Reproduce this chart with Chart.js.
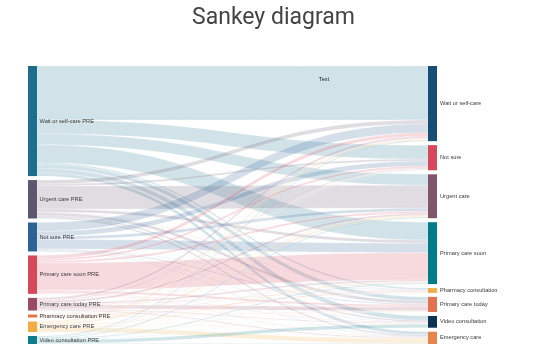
<!DOCTYPE html>
<html>
<head>
<meta charset="utf-8">
<script src="https://cdn.jsdelivr.net/npm/chart.js@4.4.1/dist/chart.umd.min.js"></script>
<style>
  html, body { margin: 0; padding: 0; background: #fff; }
  #wrap { width: 547px; height: 360px; }
</style>
</head>
<body>
<div id="wrap"><canvas id="sankeyChart"></canvas></div>
<script>
// nodes
const sourceLabels = [
  "Wait or self-care PRE", "Urgent care PRE", "Not sure PRE", "Primary care soon PRE",
  "Primary care today PRE", "Pharmacy consultation PRE", "Emergency care PRE", "Video consultation PRE"
];
const targetLabels = [
  "Wait or self-care", "Not sure", "Urgent care", "Primary care soon",
  "Pharmacy consultation", "Primary care today", "Video consultation", "Emergency care"
];
const sourceColors = ["#1a6e8e", "#5f5770", "#2e6196", "#d9475c", "#9b4a63", "#e8734a", "#f2ad45", "#0d7d8a"];
const targetColors = ["#154f75", "#d6485c", "#80566b", "#007b8a", "#f0ad45", "#e1714f", "#0d3354", "#e8844a"];

// flows out of each PRE node, in targetLabels order
const fromWait         = [540, 140, 110, 180, 15, 40, 45, 33];
const fromUrgent       = [40, 20, 230, 30, 5, 30, 15, 15];
const fromNotSure      = [90, 50, 30, 95, 5, 10, 5, 5];
const fromPrimarySoon  = [35, 20, 20, 275, 5, 20, 5, 5];
const fromPrimaryToday = [20, 10, 20, 15, 5, 40, 7, 10];
const fromPharmacy     = [3, 2, 5, 5, 8, 3, 2, 2];
const fromEmergency    = [15, 5, 15, 10, 3, 5, 4, 48];
const fromVideo        = [10, 5, 10, 10, 2, 3, 35, 5];

const flows = [fromWait, fromUrgent, fromNotSure, fromPrimarySoon, fromPrimaryToday, fromPharmacy, fromEmergency, fromVideo];

const sourceTotals = flows.map(r => r.reduce((s, v) => s + v, 0));
const targetTotals = targetLabels.map((_, j) => flows.reduce((s, r) => s + r[j], 0));
const grandTotal = sourceTotals.reduce((s, v) => s + v, 0);
const nodeGap = grandTotal * 0.016;
const yMax = grandTotal + nodeGap * (sourceLabels.length - 1);

function stackNodes(totals) {
  let y = 0;
  return totals.map(t => {
    const n = { y0: y, y1: y + t };
    y += t + nodeGap;
    return n;
  });
}
const sourceNodes = stackNodes(sourceTotals);
const targetNodes = stackNodes(targetTotals);

function hexToRgba(hex, a) {
  const n = parseInt(hex.slice(1), 16);
  return "rgba(" + (n >> 16) + "," + ((n >> 8) & 255) + "," + (n & 255) + "," + a + ")";
}

const nodeWidth = 9;

const sankeyPlugin = {
  id: "sankey",
  afterDatasetsDraw(chart) {
    const ctx = chart.ctx;
    const xs = chart.scales.x;
    const ys = chart.scales.y;
    const leftX = xs.getPixelForValue(0);
    const rightX = xs.getPixelForValue(1);
    const x0 = leftX + nodeWidth;
    const x1 = rightX - nodeWidth;
    const xm = (x0 + x1) / 2;

    // links
    const tgtOffset = targetNodes.map(n => n.y0);
    ctx.save();
    flows.forEach((row, i) => {
      let sOff = sourceNodes[i].y0;
      row.forEach((v, j) => {
        if (!v) return;
        const sy0 = ys.getPixelForValue(sOff);
        const sy1 = ys.getPixelForValue(sOff + v);
        const ty0 = ys.getPixelForValue(tgtOffset[j]);
        const ty1 = ys.getPixelForValue(tgtOffset[j] + v);
        sOff += v;
        tgtOffset[j] += v;
        ctx.beginPath();
        ctx.moveTo(x0, sy0);
        ctx.bezierCurveTo(xm, sy0, xm, ty0, x1, ty0);
        ctx.lineTo(x1, ty1);
        ctx.bezierCurveTo(xm, ty1, xm, sy1, x0, sy1);
        ctx.closePath();
        ctx.fillStyle = hexToRgba(sourceColors[i], 0.2);
        ctx.fill();
        ctx.strokeStyle = "rgba(255,255,255,0.6)";
        ctx.lineWidth = 0.4;
        ctx.stroke();
      });
    });

    // nodes
    sourceNodes.forEach((n, i) => {
      const top = ys.getPixelForValue(n.y0);
      const bot = ys.getPixelForValue(n.y1);
      ctx.fillStyle = sourceColors[i];
      ctx.fillRect(leftX, top, nodeWidth, bot - top);
    });
    targetNodes.forEach((n, j) => {
      const top = ys.getPixelForValue(n.y0);
      const bot = ys.getPixelForValue(n.y1);
      ctx.fillStyle = targetColors[j];
      ctx.fillRect(x1, top, nodeWidth, bot - top);
    });

    // labels
    ctx.font = "5.7px 'Liberation Sans', Arial, sans-serif";
    ctx.fillStyle = "#3a3a3a";
    ctx.textAlign = "left";
    ctx.textBaseline = "middle";
    sourceNodes.forEach((n, i) => {
      const mid = ys.getPixelForValue((n.y0 + n.y1) / 2);
      ctx.fillText(sourceLabels[i], x0 + 2.5, mid);
    });
    targetNodes.forEach((n, j) => {
      const mid = ys.getPixelForValue((n.y0 + n.y1) / 2);
      ctx.fillText(targetLabels[j], rightX + 3, mid);
    });

    // annotation
    ctx.fillStyle = "#222";
    ctx.fillText("Text", xs.getPixelForValue(0.711), ys.getPixelForValue(yMax * 0.047));
    ctx.restore();
  }
};

const ctx = document.getElementById("sankeyChart").getContext("2d");
new Chart(ctx, {
  type: "scatter",
  data: { datasets: [] },
  options: {
    responsive: true,
    maintainAspectRatio: false,
    animation: false,
    layout: { padding: { left: 28, right: 28, top: 0, bottom: 16 } },
    scales: {
      // right node column sits at x = 1, label space beyond it
      x: { type: "linear", min: 0, max: 1.2005, display: false },
      y: { type: "linear", min: 0, max: yMax, reverse: true, display: false }
    },
    plugins: {
      legend: { display: false },
      tooltip: { enabled: false },
      title: {
        display: true,
        text: "Sankey diagram",
        color: "#444",
        font: { family: "Roboto", size: 23, weight: "normal" },
        padding: { top: 4, bottom: 34.4 }
      }
    }
  },
  plugins: [sankeyPlugin]
});
</script>
</body>
</html>
